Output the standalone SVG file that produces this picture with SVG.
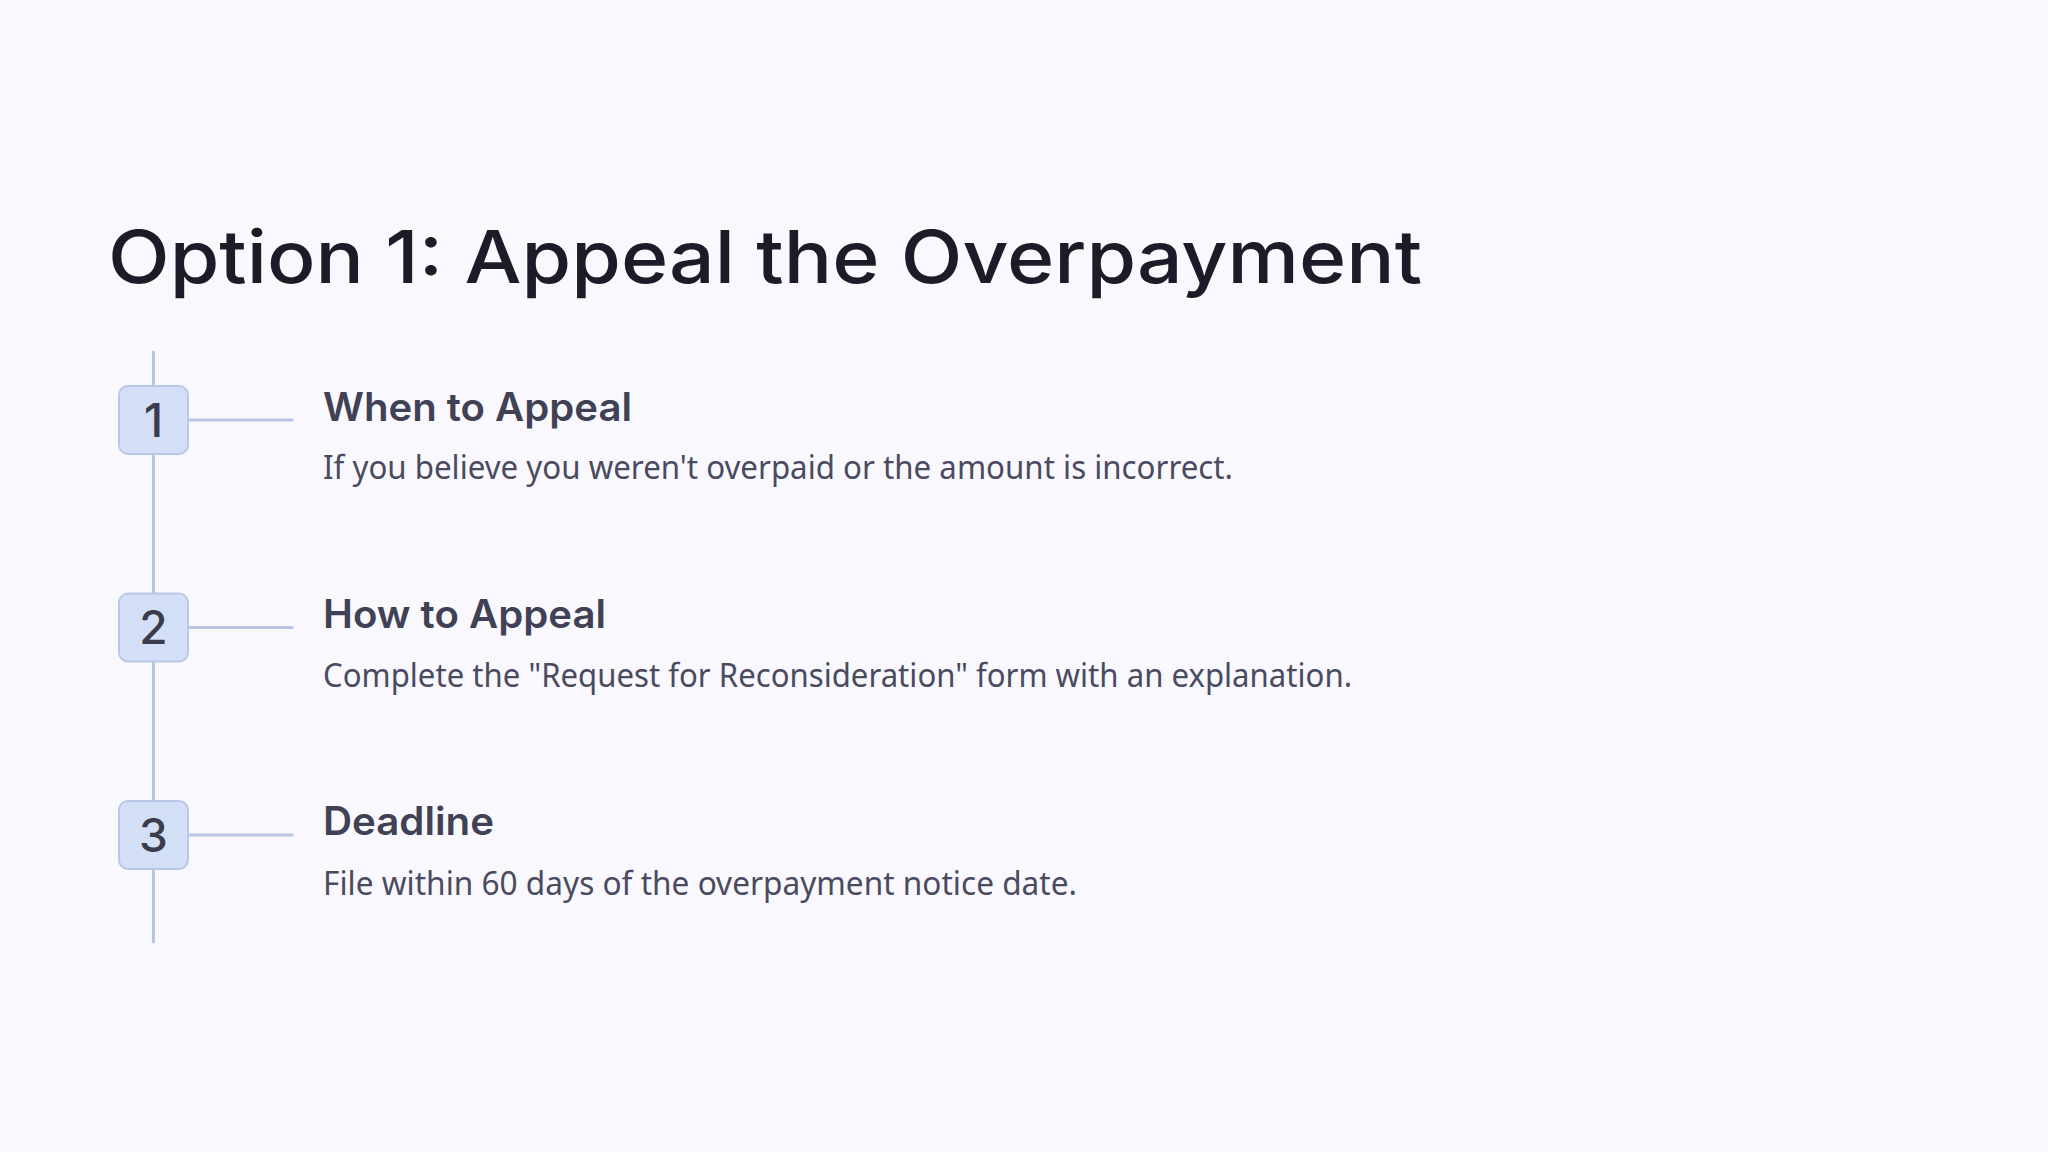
<svg xmlns="http://www.w3.org/2000/svg" width="2048" height="1152" viewBox="0 0 2048 1152">
  <style>
    .title { font-family: Inter, "Noto Sans", "Liberation Sans", sans-serif; font-weight: 500; font-size: 73px; fill: #1c1c28; }
    .head { font-family: Inter, "Noto Sans", "Liberation Sans", sans-serif; font-weight: 600; font-size: 39px; fill: #404154; }
    .desc { font-family: "Noto Sans", "Liberation Sans", sans-serif; font-weight: 400; font-size: 32px; fill: #4a4b5e; }
    .num { font-family: Inter, "Noto Sans", "Liberation Sans", sans-serif; font-weight: 500; font-size: 46px; fill: #3a3b4c; }
    .box { fill: #d3dff7; stroke: #b9c8e6; stroke-width: 2; }
    .line { stroke: #b8c5e3; stroke-width: 3; fill: none; stroke-linecap: round; }
  </style>
  <rect width="2048" height="1152" fill="#f8f8fe"/>
  <text class="title" x="108" y="283" textLength="1314" lengthAdjust="spacingAndGlyphs">Option 1: Appeal the Overpayment</text>
  <g id="connectors">
    <line class="line" x1="153.5" y1="352" x2="153.5" y2="942"/>
    <line class="line" x1="188" y1="420" x2="292" y2="420"/>
    <line class="line" x1="188" y1="627.5" x2="292" y2="627.5"/>
    <line class="line" x1="188" y1="835" x2="292" y2="835"/>
  </g>
  <g id="step1">
    <rect class="box" x="119" y="386" width="69" height="68" rx="9"/>
    <text class="num" x="153.5" y="436.5" text-anchor="middle">1</text>
    <text class="head" x="323" y="421" textLength="309" lengthAdjust="spacingAndGlyphs">When to Appeal</text>
    <text class="desc" x="323" y="479" textLength="910" lengthAdjust="spacingAndGlyphs">If you believe you weren't overpaid or the amount is incorrect.</text>
  </g>
  <g id="step2">
    <rect class="box" x="119" y="593.5" width="69" height="68" rx="9"/>
    <text class="num" x="153.5" y="644" text-anchor="middle">2</text>
    <text class="head" x="323" y="628" textLength="283" lengthAdjust="spacingAndGlyphs">How to Appeal</text>
    <text class="desc" x="323" y="687" textLength="1029" lengthAdjust="spacingAndGlyphs">Complete the "Request for Reconsideration" form with an explanation.</text>
  </g>
  <g id="step3">
    <rect class="box" x="119" y="801" width="69" height="68" rx="9"/>
    <text class="num" x="153.5" y="851.5" text-anchor="middle">3</text>
    <text class="head" x="323" y="835" textLength="171" lengthAdjust="spacingAndGlyphs">Deadline</text>
    <text class="desc" x="323" y="895" textLength="754" lengthAdjust="spacingAndGlyphs">File within 60 days of the overpayment notice date.</text>
  </g>
</svg>
